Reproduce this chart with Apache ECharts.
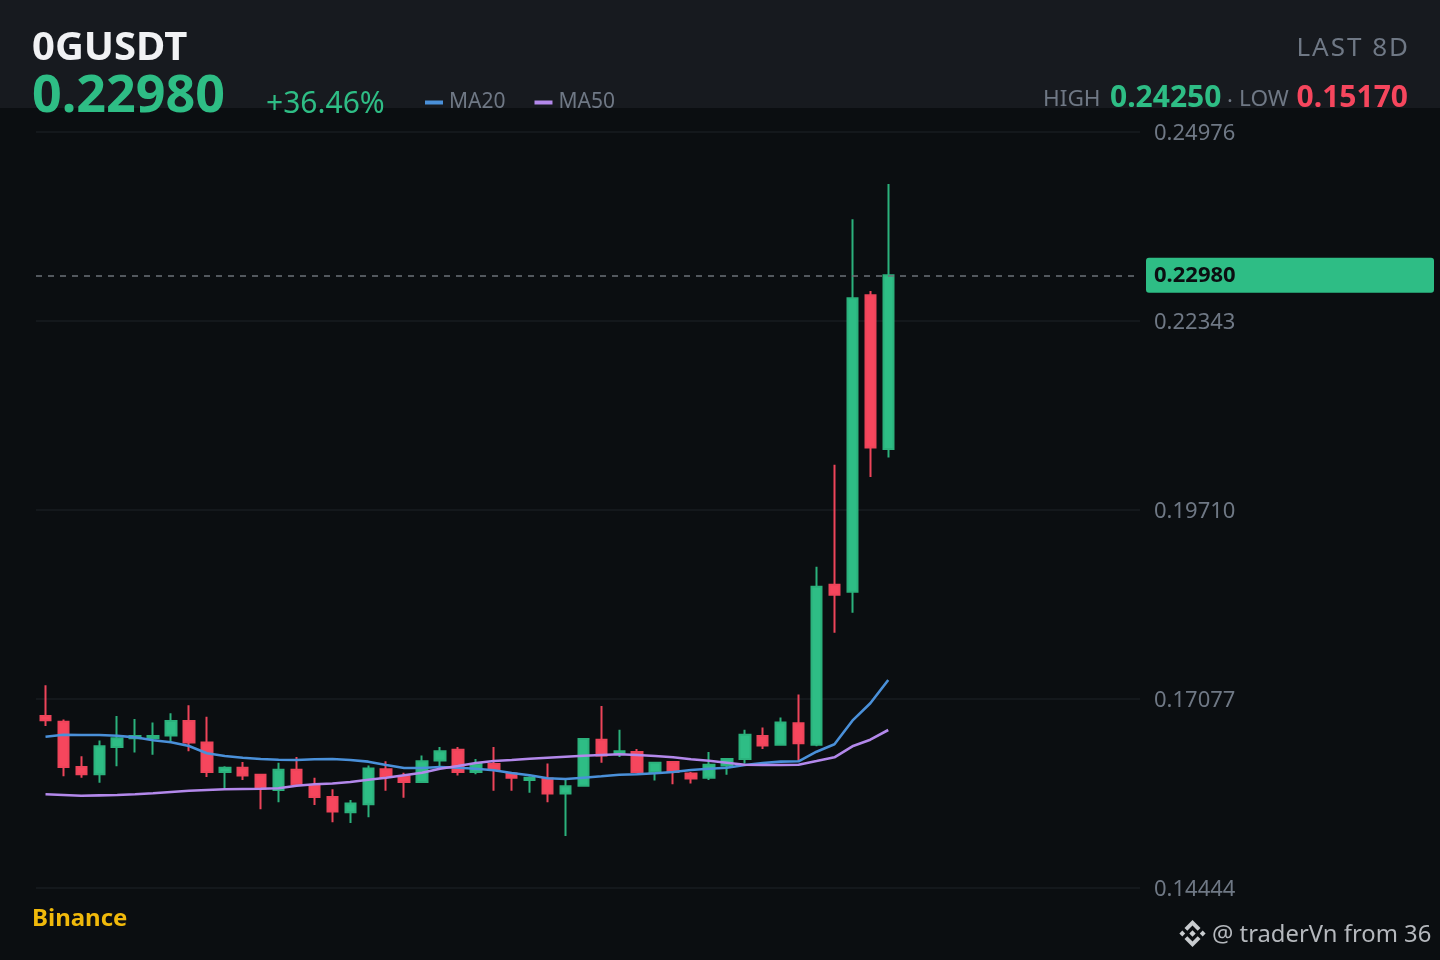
<!DOCTYPE html>
<html>
<head>
<meta charset="utf-8">
<style>html,body{margin:0;padding:0;background:#0B0E11}#c{width:1440px;height:960px}</style>
<script src="https://cdn.jsdelivr.net/npm/echarts@6/dist/echarts.min.js"></script>
</head>
<body>
<div id="c"></div>
<script>
const symbol = "0GUSDT";
const lastPrice = "0.22980";
const changePct = "+36.46%";
const highText = "0.24250";
const lowText = "0.15170";
const yTicks = [0.14444, 0.17077, 0.19710, 0.22343, 0.24976];
const lastValue = 0.2298;
const opens  = [.1684,.1676,.1613,.1603,.1641,.1653,.1653,.1657,.1677,.1647,.1606,.1612,.1602,.1581,.1609,.1588,.1571,.1550,.1561,.1610,.1600,.1592,.1622,.1637,.1606,.1617,.1604,.1595,.1597,.1576,.1587,.1651,.1631,.1634,.1606,.1620,.1604,.1598,.1615,.1624,.1656,.1644,.1674,.1644,.1867,.1857,.2270,.2056];
const closes = [.1678,.1613,.1603,.1642,.1653,.1656,.1656,.1677,.1647,.1606,.1612,.1601,.1583,.1609,.1589,.1571,.1551,.1562,.1611,.1599,.1592,.1621,.1635,.1606,.1617,.1609,.1598,.1598,.1576,.1586,.1652,.1629,.1635,.1606,.1619,.1606,.1597,.1616,.1624,.1658,.1643,.1675,.1646,.1864,.1853,.2266,.2058,.2298];
const lows   = [.1670,.1600,.1598,.1591,.1614,.1633,.1630,.1648,.1635,.1599,.1582,.1595,.1554,.1564,.1588,.1560,.1536,.1535,.1543,.1580,.1570,.1592,.1612,.1601,.1603,.1580,.1580,.1577,.1564,.1517,.1587,.1619,.1627,.1604,.1594,.1589,.1590,.1595,.1602,.1618,.1638,.1643,.1620,.1642,.1800,.1828,.2017,.2044];
const highs  = [.1727,.1679,.1628,.1650,.1684,.1680,.1675,.1688,.1699,.1683,.1614,.1620,.1603,.1619,.1627,.1598,.1582,.1567,.1615,.1621,.1605,.1629,.1641,.1641,.1624,.1641,.1606,.1600,.1618,.1596,.1653,.1698,.1665,.1638,.1620,.1620,.1606,.1634,.1624,.1665,.1668,.1682,.1714,.1892,.2034,.2376,.2276,.2425];
const ma20 = [.16552,.16580,.16575,.16575,.16566,.16543,.16502,.16474,.16422,.16321,.16283,.16259,.16241,.16231,.16227,.16237,.16241,.16227,.16204,.16158,.16116,.16116,.16130,.16120,.16106,.16084,.16046,.16014,.15972,.15962,.15981,.16000,.16022,.16028,.16042,.16060,.16088,.16106,.16120,.16158,.16185,.16204,.16209,.16343,.16446,.16775,.17017,.17342];
const ma50 = [.15749,.15740,.15730,.15735,.15740,.15749,.15763,.15781,.15799,.15809,.15819,.15823,.15827,.15833,.15869,.15889,.15900,.15921,.15953,.15981,.16014,.16050,.16106,.16144,.16185,.16213,.16227,.16245,.16259,.16273,.16287,.16297,.16307,.16297,.16283,.16265,.16237,.16217,.16190,.16162,.16158,.16158,.16162,.16213,.16265,.16418,.16510,.16645];

const UP = '#2EBD85', DOWN = '#F6465D', FONT = '"Noto Sans", sans-serif';
const candleData = opens.map((o, i) => [i, o, closes[i], lows[i], highs[i]]);
const chart = echarts.init(document.getElementById('c'), null, {renderer: 'canvas'});

function t(x, y, text, size, color, weight, align) {
  return {type: 'text', x, y, silent: true, z: 5,
    style: {text, font: (weight || 'normal') + ' ' + size + 'px ' + FONT, fill: color, textAlign: align || 'left'}};
}
function spaced(x, y, text, size, color, gap, align) {
  const chars = [...text];
  const tokens = chars.map((c, i) => '{' + (i < chars.length - 1 ? 'g' : 'e') + '|' + c + '}').join('');
  const f = 'normal ' + size + 'px ' + FONT;
  return {type: 'text', x, y, silent: true, z: 5,
    style: {text: tokens, fill: color, font: f, textAlign: align || 'left',
      rich: {g: {font: f, fill: color, padding: [0, gap, 0, 0]}, e: {font: f, fill: color}}}};
}
function diamond(cx, cy, pts) {
  return {type: 'polygon', z: 5, silent: true, x: cx, y: cy, shape: {points: pts}, style: {fill: '#C9CCCF'}};
}
const LX = 1192.5, LY = 933.5;

chart.setOption({
  animation: false,
  backgroundColor: '#0B0E11',
  textStyle: {fontFamily: FONT},
  grid: {left: 36, top: 132, width: 1104, height: 756, containLabel: false},
  legend: {
    left: 420, top: 87, itemWidth: 18, itemHeight: 4, itemGap: 29, icon: 'rect',
    textStyle: {color: '#6F7885', fontSize: 21, fontFamily: FONT, padding: [0, 0, 0, 1]},
    data: ['MA20', 'MA50']
  },
  xAxis: {type: 'value', min: -0.53, max: 61.04, show: false},
  yAxis: {
    type: 'value', position: 'right', min: yTicks[0], max: yTicks[yTicks.length - 1],
    axisLine: {show: false},
    axisTick: {show: false, customValues: yTicks},
    axisLabel: {customValues: yTicks, margin: 14, fontFamily: FONT,
      formatter: v => '{a|' + v.toFixed(5) + '}',
      rich: {a: {color: '#6F7885', fontSize: 22, fontFamily: FONT, padding: [4, 0, 0, 0]}}},
    splitLine: {show: true, lineStyle: {color: '#14181C', width: 2}}
  },
  series: [
    {
      name: 'Candles', type: 'candlestick', barWidth: 11, clip: false,
      encode: {x: 0, y: [1, 2, 3, 4]},
      itemStyle: {color: UP, color0: DOWN, borderColor: '#2BB17C', borderColor0: '#EE445A', borderWidth: 2},
      data: candleData,
      markLine: {
        silent: true, symbol: 'none', precision: 5,
        lineStyle: {color: '#6C7278', type: [6, 6], width: 1.5},
        label: {
          show: true, position: 'end', distance: 6, formatter: lastPrice,
          backgroundColor: UP, borderRadius: 3, color: '#0B0E11', fontWeight: 'bold',
          fontSize: 22, fontFamily: FONT, padding: [7, 8, 1, 8], width: 272, height: 27, lineHeight: 27, align: 'left'
        },
        data: [{yAxis: lastValue}]
      }
    },
    {name: 'MA20', type: 'line', symbol: 'none', z: 3, data: ma20.map((v, i) => [i, v]),
      lineStyle: {color: '#4A90D9', width: 2.6}, itemStyle: {color: '#4A90D9'}},
    {name: 'MA50', type: 'line', symbol: 'none', z: 3, data: ma50.map((v, i) => [i, v]),
      lineStyle: {color: '#B388EB', width: 2.6}, itemStyle: {color: '#B388EB'}}
  ],
  graphic: [
    {type: 'rect', z: -10, silent: true, shape: {x: 0, y: 0, width: 1440, height: 108}, style: {fill: '#171A1F'}},
    t(32, 29, symbol, 40, '#F1F2F4', 'bold'),
    t(32, 71, lastPrice, 52, UP, 'bold'),
    t(266, 89, changePct, 30, UP),
    spaced(1408, 36, 'LAST 8D', 26, '#6F7885', 2, 'right'),
    t(1043, 88, 'HIGH', 22.6, '#6F7885'),
    t(1110, 83, highText, 30, UP, 'bold'),
    t(1227, 91, '·', 22, '#6F7885'),
    t(1239, 88, 'LOW', 22.6, '#6F7885'),
    t(1408, 83, lowText, 30, DOWN, 'bold', 'right'),
    t(32, 907, 'Binance', 24, '#F0B90B', 'bold'),
    t(1212, 923, '@ traderVn from 36', 23.8, '#B5B8BD'),
    diamond(LX, LY, [[0,-13.5],[8,-5.5],[5.2,-2.7],[0,-7.9],[-5.2,-2.7],[-8,-5.5]]),
    diamond(LX, LY, [[0,13.5],[8,5.5],[5.2,2.7],[0,7.9],[-5.2,2.7],[-8,5.5]]),
    diamond(LX, LY, [[0,-3.2],[3.2,0],[0,3.2],[-3.2,0]]),
    diamond(LX, LY, [[-10.2,-2.9],[-7.3,0],[-10.2,2.9],[-13.1,0]]),
    diamond(LX, LY, [[10.2,-2.9],[13.1,0],[10.2,2.9],[7.3,0]])
  ]
});
</script>
</body>
</html>
